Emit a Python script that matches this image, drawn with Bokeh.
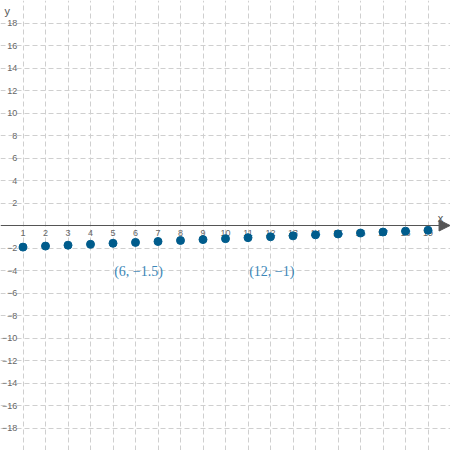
from bokeh.plotting import figure
from bokeh.models import Range1d, Grid, FixedTicker, ColumnDataSource, Arrow, NormalHead
from bokeh.core.properties import value
from bokeh.embed import file_html
from bokeh.resources import INLINE

# sequence points
x_vals = [1, 2, 3, 4, 5, 6, 7, 8, 9, 10, 11, 12, 13, 14, 15, 16, 17, 18, 19]
y_vals = [-1.92, -1.83, -1.75, -1.67, -1.58, -1.5, -1.42, -1.33, -1.25, -1.17,
          -1.08, -1.0, -0.92, -0.83, -0.75, -0.67, -0.58, -0.5, -0.42]

# labelled points
label_x = [6, 12]
label_y = [-1.5, -1]
label_text = ["(6, \u22121.5)", "(12, \u22121)"]

x_ticks = [1, 2, 3, 4, 5, 6, 7, 8, 9, 10, 11, 12, 13, 14, 15, 16, 17, 18, 19]
y_ticks = [-18, -16, -14, -12, -10, -8, -6, -4, -2, 2, 4, 6, 8, 10, 12, 14, 16, 18]

p = figure(width=450, height=450, output_backend="svg", toolbar_location=None,
           x_range=Range1d(0, 20), y_range=Range1d(-20, 20),
           x_axis_type=None, y_axis_type=None, min_border=0)
p.outline_line_color = None
p.background_fill_color = "white"

grid_style = dict(grid_line_color="#cfcfcf", grid_line_dash="5 3", grid_line_width=1)
p.add_layout(Grid(dimension=0, ticker=FixedTicker(ticks=x_ticks + [20]), **grid_style))
p.add_layout(Grid(dimension=1, ticker=FixedTicker(ticks=y_ticks), **grid_style))

# x axis with arrow
p.add_layout(Arrow(end=NormalHead(size=11, fill_color="#555555", line_color="#555555"),
                   x_start=0, y_start=0, x_end=19.98, y_end=0,
                   line_color="#555555", line_width=1.2))

# tick labels
p.text(x=x_ticks, y=[-0.71] * len(x_ticks), text=[str(t) for t in x_ticks],
       text_font=value("Liberation Sans"), text_font_size="9px", text_color="#666666",
       text_align="center", text_baseline="middle")
p.text(x=[0.74] * len(y_ticks), y=y_ticks,
       text=[str(t).replace("-", "\u2212") for t in y_ticks],
       text_font=value("Liberation Sans"), text_font_size="9px", text_color="#666666",
       text_align="right", text_baseline="middle")

p.text(x=[19.55], y=[0.7], text=["x"], text_font=value("Liberation Sans"),
       text_font_size="11px", text_color="#555555", text_align="center", text_baseline="middle")
p.text(x=[0.3], y=[19.1], text=["y"], text_font=value("Liberation Sans"),
       text_font_size="11px", text_color="#555555", text_align="center", text_baseline="middle")

src = ColumnDataSource(data=dict(x=x_vals, y=y_vals))
p.scatter(x="x", y="y", source=src, size=8, fill_color="#005c8c", line_color="#005c8c")

p.text(x=[lx - 0.95 for lx in label_x], y=[-4.09, -4.09], text=label_text,
       text_font=value("Liberation Serif"), text_font_size="14px", text_color="#3b87b8",
       text_align="left", text_baseline="middle")

open("out.html", "w").write(file_html(p, INLINE))
